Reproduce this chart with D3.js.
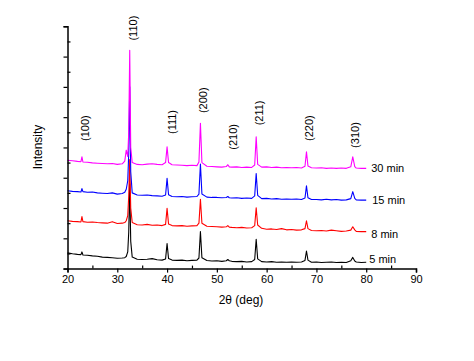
<!DOCTYPE html>
<html>
<head>
<meta charset="utf-8">
<script src="https://cdnjs.cloudflare.com/ajax/libs/d3/7.8.5/d3.min.js"></script>
<style>
  body { margin: 0; background: #fff; }
  svg text { font-family: "Liberation Sans", Arial, sans-serif; fill: #000; }
</style>
</head>
<body>
<svg id="chart" width="474" height="361"></svg>
<script>
// 2theta sample positions shared by every pattern
const theta = [20, 21, 22, 22.7, 22.9, 23.1, 24, 25, 26, 27, 28, 29, 30, 31,
  31.5, 31.8, 32.1, 32.3, 32.5, 32.7, 33.0, 34, 35, 36, 37, 38, 39,
  39.7, 40.0, 40.3, 41, 42, 43, 44, 45, 46, 46.4, 46.7, 47.0, 48, 49, 50, 51,
  51.9, 52.2, 52.5, 53, 54, 55, 56, 57, 57.6, 57.9, 58.2, 59, 60, 61, 62, 63,
  64, 65, 66, 67, 67.7, 68.0, 68.3, 69, 70, 71, 72, 73, 74, 75, 76,
  76.9, 77.3, 77.7, 78, 79, 80];

// intensity (arb. units, stacked offsets included)
const min5 = [0.52, 0.49, 0.47, 0.46, 0.55, 0.45, 0.44, 0.42, 0.41, 0.38, 0.37, 0.36, 0.34, 0.35,
  0.36, 0.40, 0.55, 1.20, 2.80, 0.90, 0.38, 0.31, 0.30, 0.31, 0.33, 0.29, 0.28,
  0.32, 0.83, 0.33, 0.28, 0.27, 0.28, 0.26, 0.27, 0.28, 0.35, 1.22, 0.36, 0.27, 0.25, 0.26, 0.24,
  0.26, 0.30, 0.26, 0.24, 0.23, 0.24, 0.22, 0.23, 0.30, 0.97, 0.32, 0.23, 0.22, 0.23, 0.21, 0.22,
  0.21, 0.22, 0.21, 0.22, 0.27, 0.58, 0.28, 0.21, 0.22, 0.20, 0.21, 0.22, 0.20, 0.21, 0.20,
  0.26, 0.37, 0.25, 0.22, 0.20, 0.21];

const min8 = [1.58, 1.56, 1.55, 1.54, 1.72, 1.55, 1.53, 1.54, 1.52, 1.51, 1.50, 1.55, 1.49, 1.50,
  1.52, 1.58, 1.75, 2.40, 3.60, 2.00, 1.52, 1.45, 1.44, 1.46, 1.43, 1.44, 1.42,
  1.46, 1.99, 1.47, 1.42, 1.41, 1.42, 1.40, 1.41, 1.42, 1.50, 2.29, 1.50, 1.40, 1.39, 1.38, 1.37,
  1.38, 1.42, 1.37, 1.36, 1.35, 1.36, 1.34, 1.35, 1.42, 2.01, 1.44, 1.33, 1.30, 1.31, 1.29, 1.32,
  1.28, 1.29, 1.27, 1.28, 1.32, 1.58, 1.32, 1.26, 1.25, 1.26, 1.24, 1.27, 1.25, 1.23, 1.24,
  1.27, 1.38, 1.28, 1.23, 1.22, 1.22];

const min15 = [2.57, 2.55, 2.54, 2.53, 2.64, 2.54, 2.52, 2.53, 2.50, 2.49, 2.48, 2.50, 2.46, 2.48,
  2.52, 2.62, 2.90, 3.80, 6.00, 3.20, 2.50, 2.43, 2.42, 2.43, 2.41, 2.40, 2.39,
  2.43, 2.98, 2.44, 2.38, 2.37, 2.38, 2.36, 2.37, 2.38, 2.46, 3.45, 2.46, 2.36, 2.35, 2.35, 2.34,
  2.35, 2.38, 2.34, 2.33, 2.34, 2.32, 2.33, 2.32, 2.40, 3.14, 2.42, 2.31, 2.32, 2.30, 2.31, 2.29,
  2.30, 2.29, 2.30, 2.28, 2.33, 2.73, 2.34, 2.28, 2.28, 2.27, 2.29, 2.27, 2.28, 2.26, 2.27,
  2.31, 2.54, 2.32, 2.27, 2.26, 2.26];

const min30 = [3.58, 3.56, 3.54, 3.53, 3.69, 3.52, 3.51, 3.49, 3.48, 3.47, 3.46, 3.47, 3.44, 3.46,
  3.55, 3.91, 3.70, 4.50, 7.21, 4.00, 3.50, 3.44, 3.43, 3.45, 3.46, 3.44, 3.43,
  3.50, 4.02, 3.50, 3.43, 3.42, 3.41, 3.40, 3.41, 3.40, 3.52, 4.80, 3.50, 3.38, 3.37, 3.36, 3.35,
  3.37, 3.43, 3.36, 3.35, 3.36, 3.34, 3.35, 3.34, 3.42, 4.35, 3.44, 3.35, 3.36, 3.34, 3.35, 3.33,
  3.34, 3.33, 3.34, 3.32, 3.38, 3.86, 3.39, 3.33, 3.32, 3.33, 3.31, 3.32, 3.31, 3.32, 3.31,
  3.36, 3.69, 3.37, 3.32, 3.31, 3.31];

const seriesNames = ['5 min', '8 min', '15 min', '30 min'];
const seriesColors = ['#000000', '#ff0000', '#0000ff', '#ff00ff'];
const seriesValues = [min5, min8, min15, min30];

// reflection labels
const hklLabels = ['(100)', '(110)', '(111)', '(200)', '(210)', '(211)', '(220)', '(310)'];
const hklTheta = [23.6, 33.2, 40.9, 47.2, 53.2, 58.5, 68.5, 77.8];
const hklLevel = [4.64, 7.94, 4.84, 5.56, 4.35, 5.14, 4.64, 4.41];

const xTicks = [20, 30, 40, 50, 60, 70, 80, 90];
const xMinor = [25, 35, 45, 55, 65, 75, 85];
const yTicks = [0, 1, 2, 3, 4, 5, 6, 7, 8];
const yMinor = [0.5, 1.5, 2.5, 3.5, 4.5, 5.5, 6.5, 7.5];

const svg = d3.select('#chart');
const x = d3.scaleLinear().domain([20, 90]).range([67.5, 416]);
const y = d3.scaleLinear().domain([0, 8]).range([268.6, 26.3]);

const line = d3.line()
  .x((d) => x(d[0]))
  .y((d) => y(d[1]));

// small nudges so the end labels sit where the original put them
const labelNudge = [-3, 2, 0, 0];
const labelShift = [-2, 0, 1, 0];

seriesValues.forEach((vals, i) => {
  const pts = theta.map((t, j) => [t, vals[j]]);
  svg.append('path')
    .attr('d', line(pts))
    .attr('fill', 'none')
    .attr('stroke', seriesColors[i])
    .attr('stroke-width', 1.1)
    .attr('stroke-linejoin', 'round');
  svg.append('text')
    .attr('x', x(80) + 5 + labelShift[i])
    .attr('y', y(vals[vals.length - 1]) + 4 + labelNudge[i])
    .attr('font-size', 11)
    .text(seriesNames[i]);
});

hklLabels.forEach((lab, i) => {
  svg.append('text')
    .attr('transform', `translate(${x(hklTheta[i]) + 4},${y(hklLevel[i])}) rotate(-90)`)
    .attr('text-anchor', 'middle')
    .attr('font-size', 11)
    .text(lab);
});

// axes
const gx = svg.append('g').attr('transform', `translate(0,${y(0)})`);
gx.call(d3.axisBottom(x).tickValues(xTicks).tickSize(4).tickPadding(3)
  .tickFormat(d3.format('d')));
gx.append('g').call(d3.axisTop(x).tickValues(xMinor).tickSize(3).tickFormat(''))
  .select('.domain').remove();

const gy = svg.append('g').attr('transform', `translate(${x(20)},0)`);
gy.call(d3.axisLeft(y).tickValues(yTicks).tickSize(4).tickFormat(''));
gy.append('g').call(d3.axisRight(y).tickValues(yMinor).tickSize(3).tickFormat(''))
  .select('.domain').remove();

svg.selectAll('.domain').attr('stroke-width', 1.5);
svg.selectAll('.tick line').attr('stroke-width', 1.2);
gx.selectAll('.tick text').attr('font-size', 11)
  .attr('font-family', '"Liberation Sans", Arial, sans-serif');

svg.append('text')
  .attr('x', 241).attr('y', 304)
  .attr('text-anchor', 'middle')
  .attr('font-size', 12)
  .text('2\u03b8 (deg)');

svg.append('text')
  .attr('transform', 'translate(42,147) rotate(-90)')
  .attr('text-anchor', 'middle')
  .attr('font-size', 12)
  .text('Intensity');
</script>
</body>
</html>
